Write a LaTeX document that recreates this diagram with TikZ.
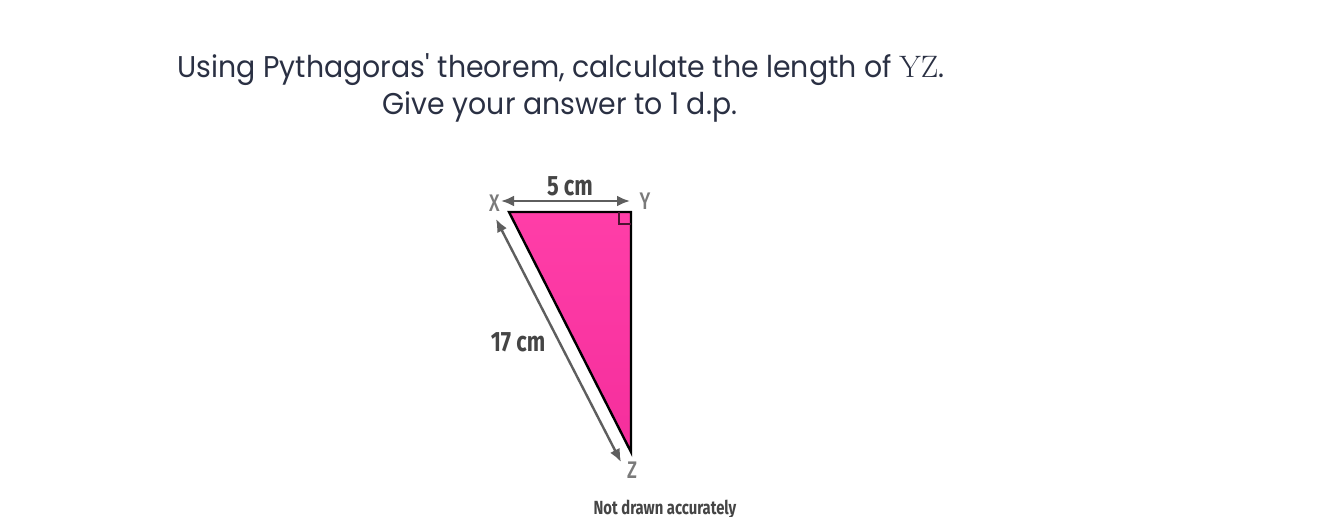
\documentclass[tikz,border=0pt]{standalone}
\usepackage{fontspec}
\setmainfont[FakeStretch=0.945]{Poppins}
\newfontfamily\lmr{Latin Modern Roman}
\newfontfamily\labfont[FakeStretch=0.78]{Fira Sans}
\newfontfamily\labfontm[FakeStretch=0.78]{Fira Sans Medium}
\usetikzlibrary{arrows.meta}
\definecolor{txt}{HTML}{2A3043}
\definecolor{pinkf}{HTML}{FF3EA8}
\definecolor{pinkd}{HTML}{F52E9C}
\definecolor{arr}{HTML}{5E5E5E}
\definecolor{vlab}{HTML}{7A7A7A}
\definecolor{dlab}{HTML}{454545}
\tikzset{
  title/.style={text=txt,font=\fontsize{30}{34}\selectfont,inner sep=0pt},
  vertex/.style={text=vlab,font=\labfontm\fontsize{24}{28}\selectfont,inner sep=0pt},
  dimlab/.style={text=dlab,font=\labfont\bfseries\fontsize{28}{32}\selectfont,inner sep=0pt},
  dimarrow/.style={draw=arr,line width=2.4pt,{Latex[length=13pt,width=11pt]}-{Latex[length=13pt,width=11pt]}},
}
\begin{document}
\begin{tikzpicture}[x=1pt,y=-1pt]
\useasboundingbox[fill=white] (0,0) rectangle (1326,517);
% title
\node[title] (t1) at (561,70) {Using Pythagoras\textquotesingle\ theorem, calculate the length of {\lmr\fontsize{31}{34}\selectfont YZ}.};
\node[title] (t2) at (560,107) {Give your answer to 1 d.p.};
% triangle
\coordinate (X) at (509,212);
\coordinate (Y) at (631,212);
\coordinate (Z) at (631,452);
\shade[top color=pinkf,bottom color=pinkd] (X) -- (Y) -- (Z) -- cycle;
\draw[line width=2.4pt,line join=miter] (X) -- (Y) -- (Z) -- cycle;
\draw[draw=black!70!pinkf,line width=1.3pt] (619,212) -- (619,224) -- (631,224);
% dimension arrows
\coordinate (a1) at (501,201);
\coordinate (a2) at (630,201);
\draw[dimarrow] (a1) -- (a2);
\coordinate (b1) at (496,219);
\coordinate (b2) at (621,462);
\draw[dimarrow] (b1) -- (b2);
% labels
\node[vertex] (lx) at (494.5,203.5) {X};
\node[vertex] (ly) at (645,201) {Y};
\node[vertex] (lz) at (632,470) {Z};
\node[dimlab] (l5) at (570,186) {5 cm};
\node[dimlab] (l17) at (518,342) {17 cm};
\node[text=dlab,font=\labfont\bfseries\fontsize{19}{22}\selectfont,inner sep=0pt] (nda) at (665,509) {Not drawn accurately};
\end{tikzpicture}
\end{document}
